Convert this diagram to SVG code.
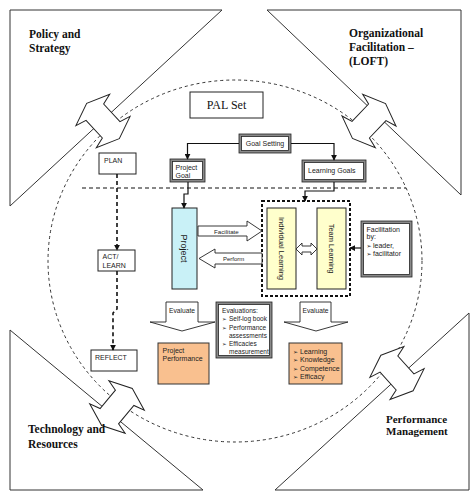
<svg xmlns="http://www.w3.org/2000/svg" width="474" height="500" viewBox="0 0 474 500">
<style>
.tri{fill:#fff;stroke:#333;stroke-width:1}
.dblA{fill:#fff;stroke:#222;stroke-width:1}
.corner{font-family:"Liberation Serif","Times New Roman",serif;font-weight:bold;font-size:11.5px;fill:#111}
.sm{font-family:"Liberation Sans",Arial,sans-serif;font-size:7px;fill:#222}
.bul{font-family:"DejaVu Sans","Liberation Sans",sans-serif;font-size:6px;fill:#222}
.box{fill:#fff;stroke:#222;stroke-width:1}
.fo{fill:#8a8a8a;stroke:#222;stroke-width:0.8}
.fi{fill:#fff;stroke:#222;stroke-width:0.8}
.conn{fill:none;stroke:#111;stroke-width:1.2}
.dash{fill:none;stroke:#111;stroke-width:1.6;stroke-dasharray:4 3}
.circ{fill:none;stroke:#333;stroke-width:1;stroke-dasharray:3 3}
.hollow{fill:#fff;stroke:#222;stroke-width:0.9}
.orange{fill:#F9C08F;stroke:#333;stroke-width:1}
.yellow{fill:#FFFFCC;stroke:#222;stroke-width:1}
</style>
<defs>
<polygon id="dbl" points="24,0 15,23 12,12 -12,12 -15,23 -24,0 -15,-23 -12,-12 12,-12 15,-23"/>
<marker id="ah" viewBox="0 0 8 8" refX="7" refY="4" markerWidth="6" markerHeight="6" orient="auto" markerUnits="userSpaceOnUse"><path d="M0,0 L8,4 L0,8 z" fill="#111"/></marker>
</defs>
<rect x="0" y="0" width="474" height="500" fill="#fff"/>

<g id="corners">
<polygon class="tri" points="10,10 222,10 10,206"/>
<polygon class="tri" points="267,10 461,10 461,195"/>
<polygon class="tri" points="10,330 10,490 203,490"/>
<polygon class="tri" points="275,490 469,490 469,313"/>
</g>

<ellipse id="cycle" class="circ" cx="235" cy="261" rx="187" ry="181"/>

<g id="corner-arrows">
<use href="#dbl" class="dblA" transform="translate(103,121) rotate(47.2)"/>
<use href="#dbl" class="dblA" transform="translate(369,121) rotate(133.6)"/>
<use href="#dbl" class="dblA" transform="translate(117,407) rotate(-50.3)"/>
<use href="#dbl" class="dblA" transform="translate(397,373) rotate(-132.2)"/>
</g>

<g id="corner-labels">
<text class="corner" x="29" y="38">Policy and</text>
<text class="corner" x="29" y="52">Strategy</text>
<text class="corner" x="349" y="37">Organizational</text>
<text class="corner" x="349" y="51">Facilitation –</text>
<text class="corner" x="349" y="65">(LOFT)</text>
<text class="corner" x="28" y="433">Technology and</text>
<text class="corner" x="28" y="448">Resources</text>
<text class="corner" x="386" y="423" style="font-size:11px">Performance</text>
<text class="corner" x="386" y="435" style="font-size:11px">Management</text>
</g>

<line id="divider" x1="82" y1="188" x2="406" y2="188" stroke="#111" stroke-width="1.2" stroke-dasharray="4 3"/>

<g id="pal-set">
<rect class="box" x="190" y="92" width="73" height="26"/>
<text x="226.5" y="109" text-anchor="middle" style="font-family:'Liberation Serif','Times New Roman',serif;font-size:12px;fill:#111">PAL Set</text>
</g>

<g id="goal-setting">
<rect class="fo" x="239" y="134" width="52" height="19"/>
<rect class="fi" x="241.5" y="136.5" width="47" height="14"/>
<text class="sm" x="265" y="146" text-anchor="middle">Goal Setting</text>
</g>

<g id="project-goal">
<rect class="fo" x="170" y="159" width="35" height="23"/>
<rect class="fi" x="172.5" y="161.5" width="30" height="18"/>
<text class="sm" x="175.5" y="170">Project</text>
<text class="sm" x="175.5" y="178">Goal</text>
</g>

<g id="learning-goals">
<rect class="fo" x="302" y="160" width="64" height="22"/>
<rect class="fi" x="304.5" y="162.5" width="59" height="17"/>
<text class="sm" x="308" y="173">Learning Goals</text>
</g>

<g id="plan">
<rect class="box" x="99" y="153" width="37" height="21"/>
<text class="sm" x="104" y="163">PLAN</text>
</g>

<g id="act-learn">
<rect class="box" x="98" y="250" width="37" height="21"/>
<text class="sm" x="102.5" y="259">ACT/</text>
<text class="sm" x="102.5" y="267.5">LEARN</text>
</g>

<g id="reflect">
<rect class="box" x="91" y="350" width="46" height="21"/>
<text class="sm" x="95" y="360">REFLECT</text>
</g>

<g id="project">
<rect x="172" y="208" width="25" height="81" fill="#C9F1F7" stroke="#222" stroke-width="1"/>
<text transform="translate(184.5,248.5) rotate(90)" text-anchor="middle" dy="0.35em" style="font-family:'Liberation Sans',Arial,sans-serif;font-size:9px;fill:#1a1a1a">Project</text>
</g>

<g id="learning-group">
<rect x="262" y="201" width="88" height="95" fill="none" stroke="#111" stroke-width="2" stroke-dasharray="3 2"/>
</g>

<g id="individual-learning">
<rect class="yellow" x="267" y="208" width="29" height="81"/>
<text class="sm" transform="translate(281.5,248.5) rotate(90)" text-anchor="middle" dy="0.35em" style="font-size:7.5px">Individual Learning</text>
</g>

<g id="team-learning">
<rect class="yellow" x="317" y="208" width="29" height="81"/>
<text class="sm" transform="translate(331.5,248.5) rotate(90)" text-anchor="middle" dy="0.35em" style="font-size:7.5px">Team Learning</text>
</g>

<g id="facilitation">
<rect class="fo" x="361" y="221" width="51" height="56"/>
<rect class="fi" x="363.5" y="223.5" width="46" height="51"/>
<text class="sm" x="366.5" y="231.5">Facilitation</text>
<text class="sm" x="366.5" y="239">by:</text>
<text class="bul" x="366.5" y="248">➢</text>
<text class="sm" x="373" y="248">leader,</text>
<text class="bul" x="366.5" y="256">➢</text>
<text class="sm" x="373" y="256">facilitator</text>
</g>

<g id="evaluations">
<rect class="fo" x="216" y="302" width="56" height="56"/>
<rect class="fi" x="218.5" y="304.5" width="51" height="51"/>
<text class="sm" x="222" y="313" style="font-size:6.6px">Evaluations:</text>
<text class="bul" x="222" y="321" style="font-size:5.5px">➢</text>
<text class="sm" x="229" y="321" style="font-size:6.5px">Self-log book</text>
<text class="bul" x="222" y="329.5" style="font-size:5.5px">➢</text>
<text class="sm" x="229" y="329.5" style="font-size:6.5px">Performance</text>
<text class="sm" x="229" y="337.5" style="font-size:6.5px">assessments</text>
<text class="bul" x="222" y="345.5" style="font-size:5.5px">➢</text>
<text class="sm" x="229" y="345.5" style="font-size:6.5px">Efficacies</text>
<text class="sm" x="229" y="353.5" style="font-size:6.5px">measurement</text>
</g>

<g id="project-performance">
<rect class="orange" x="158" y="343" width="51" height="41"/>
<text class="sm" x="162.5" y="352.5">Project</text>
<text class="sm" x="162.5" y="360.5">Performance</text>
</g>

<g id="learning-outcomes">
<rect class="orange" x="289" y="343" width="53" height="41"/>
<text class="bul" x="293" y="353.5">➢</text>
<text class="sm" x="300" y="353.5">Learning</text>
<text class="bul" x="293" y="362">➢</text>
<text class="sm" x="300" y="362">Knowledge</text>
<text class="bul" x="293" y="370.5">➢</text>
<text class="sm" x="300" y="370.5">Competence</text>
<text class="bul" x="293" y="379">➢</text>
<text class="sm" x="300" y="379">Efficacy</text>
</g>

<g id="connectors">
<path class="conn" d="M239,143.5 H187.5 V159" marker-end="url(#ah)"/>
<path class="conn" d="M291,143.5 H334 V160" marker-end="url(#ah)"/>
<path class="conn" d="M188,182 V194 H184 V208" marker-end="url(#ah)"/>
<path class="conn" d="M334,182 V191 H305 V201" marker-end="url(#ah)"/>
<path class="conn" d="M361,248 H350" marker-end="url(#ah)"/>
<path class="dash" d="M117,174 V250" marker-end="url(#ah)"/>
<path class="dash" d="M117,271 V309 L113,313 V350" marker-end="url(#ah)"/>
<g id="facilitate-arrow">
<polygon class="hollow" points="198,226 247,226 247,221 262,231 247,241 247,236 198,236"/>
<text class="sm" x="214" y="233.5" style="font-size:6.2px">Facilitate</text>
</g>
<g id="perform-arrow">
<polygon class="hollow" points="262,253 215,253 215,249 199,258.5 215,268 215,264 262,264"/>
<text class="sm" x="223" y="260.5" style="font-size:6px">Perform</text>
</g>
<polygon id="mutual-arrow" class="hollow" points="296,249 302,243 302,246 311,246 311,243 317,249 311,255 311,252 302,252 302,255"/>
<g id="evaluate-left">
<polygon class="hollow" points="166,302 198,302 198,322 215,322 182,331 150,322 166,322"/>
<text class="sm" x="182" y="313" text-anchor="middle" style="font-size:6.7px">Evaluate</text>
</g>
<g id="evaluate-right">
<polygon class="hollow" points="300,302 331,302 331,322 348,322 316,331 284,322 300,322"/>
<text class="sm" x="315.5" y="313" text-anchor="middle" style="font-size:6.7px">Evaluate</text>
</g>
</g>
</svg>
